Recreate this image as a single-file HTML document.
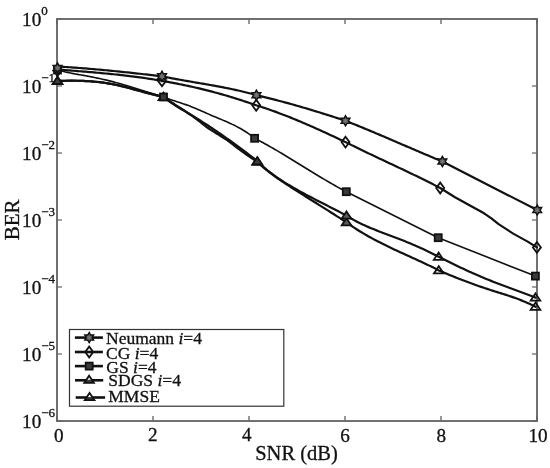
<!DOCTYPE html>
<html><head><meta charset="utf-8"><title>BER vs SNR</title>
<style>html,body{margin:0;padding:0;background:#fff;width:550px;height:468px;overflow:hidden}svg{display:block}</style>
</head><body>
<svg width="550" height="468" viewBox="0 0 550 468">
<defs><linearGradient id="tg" x1="0" y1="0" x2="0" y2="1"><stop offset="0.5" stop-color="#fff"/><stop offset="0.62" stop-color="#3a3a3a"/></linearGradient><radialGradient id="hg" cx="0.5" cy="0.5" r="0.6"><stop offset="0" stop-color="#7c7c7c"/><stop offset="1" stop-color="#3a3a3a"/></radialGradient></defs>
<style>
.ax{stroke:#626262;stroke-width:1.8;fill:none}
.tk{stroke:#444;stroke-width:1.1;fill:none}
.ln{fill:none;stroke:#111;stroke-linejoin:round;stroke-linecap:round}
.mh{fill:url(#hg);stroke:#111;stroke-width:1.4;stroke-linejoin:miter}
.md{fill:none;stroke:#111;stroke-width:1.8;stroke-linejoin:miter}
.ms{fill:#3a3a3a;stroke:#111;stroke-width:1.8}
.mt{fill:none;stroke:#111;stroke-width:1.8;stroke-linejoin:miter}
.mtf{fill:#3c3c3c;stroke:#111;stroke-width:1.8;stroke-linejoin:miter}
.mtl{fill:url(#tg);stroke:#111;stroke-width:1.8;stroke-linejoin:miter}
.mtg{fill:#5a5a5a;stroke:#111;stroke-width:1.8;stroke-linejoin:miter}
text{font-family:"Liberation Serif","Times New Roman",serif;fill:#111;stroke:#111;stroke-width:0.3}
</style>
<path class="tk" d="M57.00,421 v-5 M57.00,19 v5 M153.00,421 v-5 M153.00,19 v5 M249.00,421 v-5 M249.00,19 v5 M345.00,421 v-5 M345.00,19 v5 M441.00,421 v-5 M441.00,19 v5 M537.00,421 v-5 M537.00,19 v5 M57,19.00 h5 M537,19.00 h-5 M57,86.00 h5 M537,86.00 h-5 M57,153.00 h5 M537,153.00 h-5 M57,220.00 h5 M537,220.00 h-5 M57,287.00 h5 M537,287.00 h-5 M57,354.00 h5 M537,354.00 h-5 M57,421.00 h5 M537,421.00 h-5"/>
<rect class="ax" x="57" y="19" width="480" height="402"/>
<path class="ln" style="stroke-width:2.2" d="M57.50,66.50 L59.51,66.62 L61.52,66.74 L63.53,66.87 L65.54,67.00 L67.55,67.13 L69.56,67.27 L71.57,67.41 L73.58,67.55 L75.59,67.70 L77.60,67.85 L79.61,68.00 L81.62,68.15 L83.62,68.31 L85.63,68.47 L87.64,68.64 L89.65,68.81 L91.66,68.98 L93.67,69.15 L95.68,69.33 L97.69,69.50 L99.70,69.68 L101.71,69.87 L103.72,70.05 L105.73,70.24 L107.74,70.43 L109.75,70.63 L111.76,70.82 L113.77,71.02 L115.78,71.22 L117.79,71.42 L119.80,71.62 L121.81,71.83 L123.82,72.04 L125.83,72.25 L127.84,72.46 L129.85,72.67 L131.86,72.89 L133.87,73.11 L135.88,73.33 L137.88,73.55 L139.89,73.77 L141.90,73.99 L143.91,74.22 L145.92,74.44 L147.93,74.67 L149.94,74.90 L151.95,75.13 L153.96,75.36 L155.97,75.59 L157.98,75.83 L159.99,76.06 L162.00,76.30 L164.01,76.72 L166.02,77.13 L168.03,77.53 L170.03,77.92 L172.04,78.31 L174.05,78.69 L176.06,79.06 L178.07,79.43 L180.08,79.79 L182.09,80.14 L184.09,80.50 L186.10,80.85 L188.11,81.19 L190.12,81.54 L192.13,81.88 L194.14,82.22 L196.14,82.56 L198.15,82.91 L200.16,83.25 L202.17,83.59 L204.18,83.93 L206.19,84.28 L208.20,84.63 L210.20,84.98 L212.21,85.33 L214.22,85.69 L216.23,86.06 L218.24,86.43 L220.25,86.80 L222.26,87.18 L224.26,87.57 L226.27,87.97 L228.28,88.37 L230.29,88.79 L232.30,89.21 L234.31,89.64 L236.31,90.08 L238.32,90.54 L240.33,91.00 L242.34,91.48 L244.35,91.97 L246.36,92.47 L248.37,92.99 L250.37,93.52 L252.38,94.06 L254.39,94.62 L256.40,95.20 L258.42,95.67 L260.45,96.15 L262.47,96.64 L264.50,97.13 L266.52,97.62 L268.55,98.12 L270.57,98.63 L272.60,99.14 L274.62,99.66 L276.65,100.18 L278.67,100.71 L280.70,101.24 L282.72,101.78 L284.75,102.33 L286.77,102.88 L288.80,103.43 L290.82,103.99 L292.85,104.55 L294.88,105.12 L296.90,105.70 L298.92,106.28 L300.95,106.86 L302.97,107.45 L305.00,108.04 L307.02,108.64 L309.05,109.24 L311.07,109.85 L313.10,110.46 L315.12,111.08 L317.15,111.70 L319.18,112.32 L321.20,112.95 L323.23,113.58 L325.25,114.22 L327.27,114.86 L329.30,115.50 L331.32,116.15 L333.35,116.80 L335.38,117.46 L337.40,118.12 L339.43,118.79 L341.45,119.45 L343.48,120.13 L345.50,120.80 L347.52,121.59 L349.54,122.39 L351.56,123.19 L353.57,124.00 L355.59,124.81 L357.61,125.63 L359.63,126.45 L361.65,127.28 L363.67,128.11 L365.69,128.94 L367.71,129.78 L369.73,130.62 L371.74,131.47 L373.76,132.32 L375.78,133.17 L377.80,134.02 L379.82,134.88 L381.84,135.73 L383.86,136.59 L385.88,137.45 L387.89,138.32 L389.91,139.18 L391.93,140.05 L393.95,140.92 L395.97,141.78 L397.99,142.65 L400.01,143.52 L402.02,144.39 L404.04,145.26 L406.06,146.13 L408.08,146.99 L410.10,147.86 L412.12,148.73 L414.14,149.60 L416.16,150.46 L418.17,151.32 L420.19,152.19 L422.21,153.05 L424.23,153.90 L426.25,154.76 L428.27,155.61 L430.29,156.46 L432.31,157.31 L434.32,158.16 L436.34,159.00 L438.36,159.83 L440.38,160.67 L442.40,161.50 L537.20,210.10"/>
<path class="ln" style="stroke-width:2.2" d="M57.50,69.50 L59.51,69.66 L61.52,69.82 L63.53,69.97 L65.54,70.13 L67.55,70.28 L69.56,70.44 L71.57,70.60 L73.58,70.75 L75.59,70.91 L77.60,71.07 L79.61,71.23 L81.62,71.39 L83.62,71.55 L85.63,71.72 L87.64,71.88 L89.65,72.05 L91.66,72.22 L93.67,72.39 L95.68,72.56 L97.69,72.74 L99.70,72.92 L101.71,73.10 L103.72,73.29 L105.73,73.48 L107.74,73.67 L109.75,73.87 L111.76,74.07 L113.77,74.27 L115.78,74.48 L117.79,74.70 L119.80,74.91 L121.81,75.14 L123.82,75.36 L125.83,75.60 L127.84,75.84 L129.85,76.08 L131.86,76.33 L133.87,76.59 L135.88,76.85 L137.88,77.12 L139.89,77.39 L141.90,77.67 L143.91,77.96 L145.92,78.26 L147.93,78.56 L149.94,78.87 L151.95,79.19 L153.96,79.52 L155.97,79.85 L157.98,80.19 L159.99,80.54 L162.00,80.90 L164.00,81.24 L166.01,81.59 L168.01,81.95 L170.02,82.31 L172.02,82.69 L174.03,83.06 L176.03,83.45 L178.03,83.84 L180.04,84.24 L182.04,84.65 L184.05,85.06 L186.05,85.49 L188.06,85.92 L190.06,86.35 L192.06,86.80 L194.07,87.25 L196.07,87.71 L198.08,88.18 L200.08,88.65 L202.09,89.14 L204.09,89.63 L206.09,90.13 L208.10,90.63 L210.10,91.15 L212.11,91.67 L214.11,92.20 L216.11,92.74 L218.12,93.29 L220.12,93.85 L222.13,94.41 L224.13,94.98 L226.14,95.56 L228.14,96.15 L230.14,96.75 L232.15,97.35 L234.15,97.97 L236.16,98.59 L238.16,99.22 L240.17,99.86 L242.17,100.51 L244.17,101.17 L246.18,101.83 L248.18,102.51 L250.19,103.19 L252.19,103.89 L254.20,104.59 L256.20,105.30 L258.23,105.93 L260.26,106.57 L262.29,107.22 L264.32,107.89 L266.35,108.57 L268.38,109.26 L270.41,109.97 L272.44,110.68 L274.47,111.41 L276.50,112.15 L278.52,112.91 L280.55,113.67 L282.58,114.44 L284.61,115.22 L286.64,116.02 L288.67,116.82 L290.70,117.63 L292.73,118.46 L294.76,119.29 L296.79,120.13 L298.82,120.97 L300.85,121.83 L302.88,122.69 L304.91,123.56 L306.94,124.44 L308.97,125.33 L311.00,126.22 L313.03,127.11 L315.06,128.02 L317.09,128.93 L319.12,129.84 L321.15,130.76 L323.18,131.69 L325.20,132.62 L327.23,133.55 L329.26,134.49 L331.29,135.43 L333.32,136.37 L335.35,137.32 L337.38,138.27 L339.41,139.23 L341.44,140.18 L343.47,141.14 L345.50,142.10 L347.51,143.11 L349.53,144.11 L351.54,145.11 L353.56,146.10 L355.57,147.09 L357.59,148.07 L359.60,149.05 L361.62,150.02 L363.63,150.99 L365.65,151.96 L367.66,152.92 L369.68,153.88 L371.69,154.84 L373.71,155.79 L375.72,156.74 L377.74,157.70 L379.75,158.65 L381.77,159.59 L383.78,160.54 L385.80,161.49 L387.81,162.44 L389.83,163.38 L391.84,164.33 L393.86,165.28 L395.87,166.23 L397.89,167.18 L399.90,168.13 L401.92,169.09 L403.93,170.04 L405.95,171.00 L407.96,171.97 L409.98,172.93 L411.99,173.90 L414.01,174.87 L416.02,175.85 L418.04,176.83 L420.05,177.82 L422.07,178.81 L424.08,179.80 L426.10,180.80 L428.11,181.81 L430.13,182.83 L432.14,183.85 L434.16,184.87 L436.17,185.91 L438.19,186.95 L440.20,188.00 L455.00,197.30 L469.50,205.30 L484.10,213.30 L491.40,218.40 L498.60,224.20 L513.20,233.60 L527.70,241.60 L536.90,247.40"/>
<path class="ln" style="stroke-width:1.6" d="M57.50,69.50 L59.50,70.19 L61.50,70.82 L63.50,71.39 L65.50,71.92 L67.50,72.40 L69.50,72.84 L71.50,73.25 L73.50,73.64 L75.50,74.01 L77.50,74.36 L79.50,74.71 L81.50,75.06 L83.50,75.41 L85.50,75.77 L87.50,76.13 L89.50,76.51 L91.50,76.90 L93.50,77.29 L95.50,77.70 L97.50,78.11 L99.50,78.54 L101.50,78.98 L103.50,79.43 L105.50,79.90 L107.50,80.38 L109.50,80.87 L111.50,81.37 L113.50,81.89 L115.50,82.42 L117.50,82.97 L119.50,83.52 L121.50,84.09 L123.50,84.67 L125.50,85.26 L127.50,85.85 L129.50,86.46 L131.50,87.07 L133.50,87.69 L135.50,88.31 L137.50,88.93 L139.50,89.56 L141.50,90.19 L143.50,90.82 L145.50,91.45 L147.50,92.08 L149.50,92.71 L151.50,93.34 L153.50,93.96 L155.50,94.58 L157.50,95.20 L159.50,95.81 L161.50,96.41 L163.50,97.00 L165.52,97.77 L167.55,98.50 L169.57,99.21 L171.60,99.90 L173.62,100.58 L175.65,101.25 L177.67,101.91 L179.70,102.57 L181.72,103.24 L183.74,103.92 L185.77,104.62 L187.79,105.35 L189.82,106.10 L191.84,106.89 L193.87,107.71 L195.89,108.55 L197.92,109.42 L199.94,110.30 L201.96,111.19 L203.99,112.09 L206.01,112.99 L208.04,113.89 L210.06,114.78 L212.09,115.65 L214.11,116.51 L216.14,117.36 L218.16,118.20 L220.18,119.04 L222.21,119.88 L224.23,120.74 L226.26,121.60 L228.28,122.49 L230.31,123.40 L232.33,124.35 L234.36,125.33 L236.38,126.35 L238.40,127.42 L240.43,128.54 L242.45,129.72 L244.48,130.96 L246.50,132.27 L248.53,133.65 L250.55,135.11 L252.58,136.66 L254.60,138.30 L256.64,139.34 L258.68,140.40 L260.71,141.48 L262.75,142.57 L264.79,143.68 L266.83,144.81 L268.86,145.95 L270.90,147.10 L272.94,148.27 L274.98,149.45 L277.02,150.64 L279.05,151.85 L281.09,153.06 L283.13,154.28 L285.17,155.50 L287.20,156.74 L289.24,157.98 L291.28,159.22 L293.32,160.47 L295.36,161.73 L297.39,162.98 L299.43,164.24 L301.47,165.50 L303.51,166.76 L305.54,168.02 L307.58,169.28 L309.62,170.53 L311.66,171.78 L313.70,173.03 L315.73,174.27 L317.77,175.50 L319.81,176.73 L321.85,177.95 L323.88,179.17 L325.92,180.37 L327.96,181.56 L330.00,182.75 L332.04,183.92 L334.07,185.07 L336.11,186.22 L338.15,187.35 L340.19,188.46 L342.22,189.56 L344.26,190.64 L346.30,191.70 L438.20,237.70 L535.40,276.10"/>
<path class="ln" style="stroke-width:2.2" d="M57.50,81.00 L59.50,80.92 L61.50,80.85 L63.50,80.80 L65.50,80.75 L67.50,80.72 L69.50,80.70 L71.50,80.69 L73.50,80.69 L75.50,80.71 L77.50,80.74 L79.50,80.79 L81.50,80.86 L83.50,80.94 L85.50,81.03 L87.50,81.14 L89.50,81.27 L91.50,81.42 L93.50,81.59 L95.50,81.77 L97.50,81.98 L99.50,82.20 L101.50,82.45 L103.50,82.71 L105.50,83.00 L107.50,83.30 L109.50,83.63 L111.50,83.99 L113.50,84.36 L115.50,84.76 L117.50,85.18 L119.50,85.62 L121.50,86.08 L123.50,86.55 L125.50,87.04 L127.50,87.54 L129.50,88.05 L131.50,88.57 L133.50,89.10 L135.50,89.63 L137.50,90.17 L139.50,90.71 L141.50,91.25 L143.50,91.79 L145.50,92.33 L147.50,92.86 L149.50,93.39 L151.50,93.92 L153.50,94.43 L155.50,94.93 L157.50,95.42 L159.50,95.90 L161.50,96.36 L163.50,96.80 L165.54,98.24 L167.58,99.65 L169.62,101.04 L171.66,102.40 L173.70,103.75 L175.73,105.09 L177.77,106.41 L179.81,107.71 L181.85,109.01 L183.89,110.30 L185.93,111.58 L187.97,112.85 L190.01,114.12 L192.05,115.40 L194.09,116.67 L196.13,117.94 L198.17,119.22 L200.20,120.51 L202.24,121.81 L204.28,123.11 L206.32,124.43 L208.36,125.77 L210.40,127.11 L212.44,128.47 L214.48,129.84 L216.52,131.22 L218.56,132.62 L220.60,134.02 L222.63,135.44 L224.67,136.87 L226.71,138.31 L228.75,139.76 L230.79,141.22 L232.83,142.69 L234.87,144.17 L236.91,145.65 L238.95,147.15 L240.99,148.66 L243.03,150.17 L245.07,151.70 L247.10,153.23 L249.14,154.77 L251.18,156.32 L253.22,157.87 L255.26,159.43 L257.30,161.00 L259.33,163.05 L261.35,165.00 L263.38,166.86 L265.41,168.62 L267.44,170.31 L269.46,171.92 L271.49,173.47 L273.52,174.96 L275.55,176.41 L277.57,177.81 L279.60,179.18 L281.63,180.51 L283.65,181.82 L285.68,183.09 L287.71,184.33 L289.74,185.55 L291.76,186.75 L293.79,187.92 L295.82,189.08 L297.85,190.22 L299.87,191.34 L301.90,192.45 L303.93,193.55 L305.95,194.63 L307.98,195.71 L310.01,196.77 L312.04,197.83 L314.06,198.88 L316.09,199.92 L318.12,200.96 L320.15,202.00 L322.17,203.03 L324.20,204.06 L326.23,205.09 L328.25,206.12 L330.28,207.15 L332.31,208.19 L334.34,209.23 L336.36,210.27 L338.39,211.32 L340.42,212.38 L342.45,213.44 L344.47,214.52 L346.50,215.60 L348.50,216.87 L350.50,218.08 L352.51,219.24 L354.51,220.36 L356.51,221.44 L358.51,222.47 L360.52,223.47 L362.52,224.43 L364.52,225.36 L366.52,226.25 L368.52,227.12 L370.53,227.97 L372.53,228.79 L374.53,229.60 L376.53,230.38 L378.53,231.16 L380.54,231.92 L382.54,232.68 L384.54,233.42 L386.54,234.17 L388.55,234.91 L390.55,235.66 L392.55,236.41 L394.55,237.17 L396.55,237.93 L398.56,238.71 L400.56,239.49 L402.56,240.28 L404.56,241.09 L406.57,241.90 L408.57,242.72 L410.57,243.56 L412.57,244.41 L414.57,245.27 L416.58,246.14 L418.58,247.03 L420.58,247.93 L422.58,248.85 L424.58,249.78 L426.59,250.73 L428.59,251.70 L430.59,252.68 L432.59,253.68 L434.60,254.70 L436.60,255.74 L438.60,256.80 L440.62,257.81 L442.64,258.81 L444.66,259.82 L446.68,260.81 L448.69,261.81 L450.71,262.79 L452.73,263.77 L454.75,264.75 L456.77,265.72 L458.79,266.68 L460.81,267.63 L462.83,268.58 L464.84,269.52 L466.86,270.45 L468.88,271.38 L470.90,272.29 L472.92,273.20 L474.94,274.09 L476.96,274.98 L478.98,275.85 L480.99,276.72 L483.01,277.58 L485.03,278.42 L487.05,279.25 L489.07,280.07 L491.09,280.88 L493.11,281.68 L495.12,282.47 L497.14,283.25 L499.16,284.02 L501.18,284.79 L503.20,285.55 L505.22,286.30 L507.24,287.05 L509.26,287.80 L511.27,288.54 L513.29,289.28 L515.31,290.02 L517.33,290.77 L519.35,291.51 L521.37,292.25 L523.39,293.00 L525.41,293.75 L527.42,294.51 L529.44,295.27 L531.46,296.04 L533.48,296.82 L535.50,297.60"/>
<path class="ln" style="stroke-width:2.2" d="M57.50,81.00 L59.50,80.93 L61.50,80.87 L63.50,80.82 L65.50,80.78 L67.50,80.75 L69.50,80.73 L71.50,80.72 L73.50,80.73 L75.50,80.74 L77.50,80.77 L79.50,80.81 L81.50,80.87 L83.50,80.94 L85.50,81.03 L87.50,81.14 L89.50,81.26 L91.50,81.41 L93.50,81.57 L95.50,81.75 L97.50,81.95 L99.50,82.17 L101.50,82.42 L103.50,82.68 L105.50,82.97 L107.50,83.29 L109.50,83.63 L111.50,83.99 L113.50,84.38 L115.50,84.79 L117.50,85.23 L119.50,85.69 L121.50,86.17 L123.50,86.66 L125.50,87.17 L127.50,87.69 L129.50,88.23 L131.50,88.77 L133.50,89.32 L135.50,89.87 L137.50,90.43 L139.50,90.99 L141.50,91.54 L143.50,92.10 L145.50,92.65 L147.50,93.19 L149.50,93.72 L151.50,94.24 L153.50,94.74 L155.50,95.23 L157.50,95.71 L159.50,96.16 L161.50,96.59 L163.50,97.00 L165.54,98.66 L167.58,100.22 L169.62,101.69 L171.66,103.09 L173.70,104.43 L175.73,105.73 L177.77,106.98 L179.81,108.22 L181.85,109.44 L183.89,110.67 L185.93,111.92 L187.97,113.20 L190.01,114.52 L192.05,115.89 L194.09,117.32 L196.13,118.80 L198.17,120.34 L200.20,121.94 L202.24,123.59 L204.28,125.22 L206.32,126.78 L208.36,128.23 L210.40,129.61 L212.44,130.92 L214.48,132.19 L216.52,133.44 L218.56,134.68 L220.60,135.94 L222.63,137.22 L224.67,138.55 L226.71,139.93 L228.75,141.38 L230.79,142.89 L232.83,144.44 L234.87,146.01 L236.91,147.57 L238.95,149.11 L240.99,150.62 L243.03,152.10 L245.07,153.56 L247.10,154.99 L249.14,156.39 L251.18,157.78 L253.22,159.14 L255.26,160.48 L257.30,161.80 L259.33,163.75 L261.35,165.61 L263.38,167.39 L265.41,169.10 L267.44,170.75 L269.46,172.33 L271.49,173.87 L273.52,175.36 L275.55,176.82 L277.57,178.25 L279.60,179.66 L281.63,181.05 L283.65,182.41 L285.68,183.76 L287.71,185.10 L289.74,186.41 L291.76,187.72 L293.79,189.02 L295.82,190.31 L297.85,191.60 L299.87,192.88 L301.90,194.15 L303.93,195.43 L305.95,196.70 L307.98,197.97 L310.01,199.24 L312.04,200.51 L314.06,201.77 L316.09,203.04 L318.12,204.31 L320.15,205.58 L322.17,206.85 L324.20,208.12 L326.23,209.40 L328.25,210.67 L330.28,211.96 L332.31,213.24 L334.34,214.53 L336.36,215.83 L338.39,217.13 L340.42,218.44 L342.45,219.75 L344.47,221.07 L346.50,222.40 L348.51,223.83 L350.51,225.22 L352.52,226.58 L354.53,227.91 L356.53,229.21 L358.54,230.48 L360.55,231.72 L362.55,232.93 L364.56,234.12 L366.57,235.29 L368.57,236.43 L370.58,237.55 L372.58,238.64 L374.59,239.72 L376.60,240.78 L378.60,241.82 L380.61,242.85 L382.62,243.85 L384.62,244.85 L386.63,245.83 L388.64,246.80 L390.64,247.76 L392.65,248.71 L394.66,249.65 L396.66,250.58 L398.67,251.50 L400.68,252.42 L402.68,253.34 L404.69,254.25 L406.70,255.16 L408.70,256.07 L410.71,256.98 L412.72,257.90 L414.72,258.81 L416.73,259.73 L418.73,260.65 L420.74,261.58 L422.75,262.52 L424.75,263.46 L426.76,264.42 L428.77,265.38 L430.77,266.36 L432.78,267.35 L434.79,268.35 L436.79,269.37 L438.80,270.40 L440.81,271.27 L442.83,272.13 L444.84,272.99 L446.86,273.84 L448.87,274.67 L450.89,275.50 L452.90,276.33 L454.92,277.14 L456.93,277.94 L458.95,278.74 L460.96,279.53 L462.98,280.31 L464.99,281.07 L467.00,281.83 L469.02,282.58 L471.03,283.33 L473.05,284.06 L475.06,284.78 L477.08,285.49 L479.09,286.19 L481.11,286.89 L483.12,287.57 L485.14,288.24 L487.15,288.91 L489.16,289.56 L491.18,290.20 L493.19,290.84 L495.21,291.47 L497.22,292.10 L499.24,292.73 L501.25,293.36 L503.27,294.00 L505.28,294.65 L507.30,295.30 L509.31,295.97 L511.32,296.65 L513.34,297.35 L515.35,298.07 L517.37,298.81 L519.38,299.57 L521.40,300.36 L523.41,301.17 L525.43,302.02 L527.44,302.90 L529.46,303.82 L531.47,304.77 L533.49,305.76 L535.50,306.80"/>
<polygon class="mtf" points="57.50,76.80 62.30,84.00 52.70,84.00"/>
<polygon class="mtf" points="163.50,92.80 168.30,100.00 158.70,100.00"/>
<polygon class="mtf" points="257.30,157.60 262.10,164.80 252.50,164.80"/>
<polygon class="mtg" points="346.50,218.20 351.30,225.40 341.70,225.40"/>
<polygon class="mt" points="438.80,266.20 443.60,273.40 434.00,273.40"/>
<polygon class="mt" points="535.50,302.60 540.30,309.80 530.70,309.80"/>
<polygon class="mtf" points="57.50,76.80 62.30,84.00 52.70,84.00"/>
<polygon class="mtf" points="163.50,92.80 168.30,100.00 158.70,100.00"/>
<polygon class="mtf" points="257.30,157.10 262.10,164.30 252.50,164.30"/>
<polygon class="mtg" points="346.50,211.40 351.30,218.60 341.70,218.60"/>
<polygon class="mt" points="438.60,252.60 443.40,259.80 433.80,259.80"/>
<polygon class="mt" points="535.50,293.40 540.30,300.60 530.70,300.60"/>
<rect class="ms" x="54.00" y="66.50" width="7.00" height="7.00"/>
<rect class="ms" x="160.00" y="93.50" width="7.00" height="7.00"/>
<rect class="ms" x="251.10" y="134.80" width="7.00" height="7.00"/>
<rect class="ms" x="342.80" y="188.20" width="7.00" height="7.00"/>
<rect class="ms" x="434.70" y="234.20" width="7.00" height="7.00"/>
<rect class="ms" x="531.90" y="272.60" width="7.00" height="7.00"/>
<polygon class="md" style="fill:#555" points="57.50,65.10 61.50,70.50 57.50,75.90 53.50,70.50"/>
<polygon class="md" points="162.00,75.50 166.00,80.90 162.00,86.30 158.00,80.90"/>
<polygon class="md" points="256.20,99.90 260.20,105.30 256.20,110.70 252.20,105.30"/>
<polygon class="md" points="345.50,136.70 349.50,142.10 345.50,147.50 341.50,142.10"/>
<polygon class="md" points="440.20,182.60 444.20,188.00 440.20,193.40 436.20,188.00"/>
<polygon class="md" points="536.90,242.00 540.90,247.40 536.90,252.80 532.90,247.40"/>
<polygon class="mh" points="57.50,62.90 56.03,65.45 53.08,65.45 54.56,68.00 53.08,70.55 56.03,70.55 57.50,73.10 58.97,70.55 61.92,70.55 60.44,68.00 61.92,65.45 58.97,65.45"/>
<polygon class="mh" points="162.00,71.20 160.53,73.75 157.58,73.75 159.06,76.30 157.58,78.85 160.53,78.85 162.00,81.40 163.47,78.85 166.42,78.85 164.94,76.30 166.42,73.75 163.47,73.75"/>
<polygon class="mh" points="256.40,90.10 254.93,92.65 251.98,92.65 253.46,95.20 251.98,97.75 254.93,97.75 256.40,100.30 257.87,97.75 260.82,97.75 259.34,95.20 260.82,92.65 257.87,92.65"/>
<polygon class="mh" points="345.50,115.70 344.03,118.25 341.08,118.25 342.56,120.80 341.08,123.35 344.03,123.35 345.50,125.90 346.97,123.35 349.92,123.35 348.44,120.80 349.92,118.25 346.97,118.25"/>
<polygon class="mh" points="442.40,156.40 440.93,158.95 437.98,158.95 439.46,161.50 437.98,164.05 440.93,164.05 442.40,166.60 443.87,164.05 446.82,164.05 445.34,161.50 446.82,158.95 443.87,158.95"/>
<polygon class="mh" points="537.20,205.00 535.73,207.55 532.78,207.55 534.26,210.10 532.78,212.65 535.73,212.65 537.20,215.20 538.67,212.65 541.62,212.65 540.14,210.10 541.62,207.55 538.67,207.55"/>
<text x="41.3" y="26.00" font-size="19.2" text-anchor="end">10</text>
<text x="41.2" y="14.60" font-size="13">0</text>
<text x="41.3" y="93.00" font-size="19.2" text-anchor="end">10</text>
<text x="41.2" y="81.60" font-size="13">−1</text>
<text x="41.3" y="160.00" font-size="19.2" text-anchor="end">10</text>
<text x="41.2" y="148.60" font-size="13">−2</text>
<text x="41.3" y="227.00" font-size="19.2" text-anchor="end">10</text>
<text x="41.2" y="215.60" font-size="13">−3</text>
<text x="41.3" y="294.00" font-size="19.2" text-anchor="end">10</text>
<text x="41.2" y="282.60" font-size="13">−4</text>
<text x="41.3" y="361.00" font-size="19.2" text-anchor="end">10</text>
<text x="41.2" y="349.60" font-size="13">−5</text>
<text x="41.3" y="428.00" font-size="19.2" text-anchor="end">10</text>
<text x="41.2" y="416.60" font-size="13">−6</text>
<text x="58.80" y="442.4" font-size="19.2" text-anchor="middle">0</text>
<text x="152.80" y="441.1" font-size="19.2" text-anchor="middle">2</text>
<text x="246.90" y="440.9" font-size="19.2" text-anchor="middle">4</text>
<text x="345.00" y="441.8" font-size="19.2" text-anchor="middle">6</text>
<text x="441.20" y="441.8" font-size="19.2" text-anchor="middle">8</text>
<text x="538.00" y="441.8" font-size="19.2" text-anchor="middle">10</text>
<text x="296.5" y="460.4" font-size="20.5" text-anchor="middle">SNR (dB)</text>
<text transform="translate(18.6,219.8) rotate(-90)" font-size="21" text-anchor="middle">BER</text>
<rect x="69.5" y="329.5" width="214.3" height="76.69999999999999" fill="#fff" stroke="#333" stroke-width="1.2"/>
<path class="ln" style="stroke-width:2.6;stroke-linecap:butt" d="M74.9,337.6 H102.9"/>
<polygon class="mh" points="89.20,332.50 87.73,335.05 84.78,335.05 86.26,337.60 84.78,340.15 87.73,340.15 89.20,342.70 90.67,340.15 93.62,340.15 92.14,337.60 93.62,335.05 90.67,335.05"/>
<text x="106.0" y="344.4" font-size="17.5">Neumann <tspan font-style="italic">i</tspan>=4</text>
<path class="ln" style="stroke-width:2.6;stroke-linecap:butt" d="M74.9,352.0 H102.9"/>
<polygon class="md" points="89.20,346.60 93.20,352.00 89.20,357.40 85.20,352.00"/>
<text x="106.0" y="358.7" font-size="17.5">CG <tspan font-style="italic">i</tspan>=4</text>
<path class="ln" style="stroke-width:2.6;stroke-linecap:butt" d="M74.9,366.1 H102.9"/>
<rect class="ms" x="85.70" y="362.60" width="7.00" height="7.00"/>
<text x="106.3" y="372.8" font-size="17.5">GS <tspan font-style="italic">i</tspan>=4</text>
<path class="ln" style="stroke-width:2.6;stroke-linecap:butt" d="M75.0,380.3 H103.2"/>
<polygon class="mtl" points="89.10,375.70 93.90,382.90 84.30,382.90"/>
<text x="108.3" y="386.0" font-size="17.5">SDGS <tspan font-style="italic">i</tspan>=4</text>
<path class="ln" style="stroke-width:2.6;stroke-linecap:butt" d="M75.7,397.5 H105.1"/>
<polygon class="mtl" points="89.60,392.90 94.40,400.10 84.80,400.10"/>
<text x="108.3" y="402.0" font-size="17.5">MMSE</text>
</svg>
</body></html>
